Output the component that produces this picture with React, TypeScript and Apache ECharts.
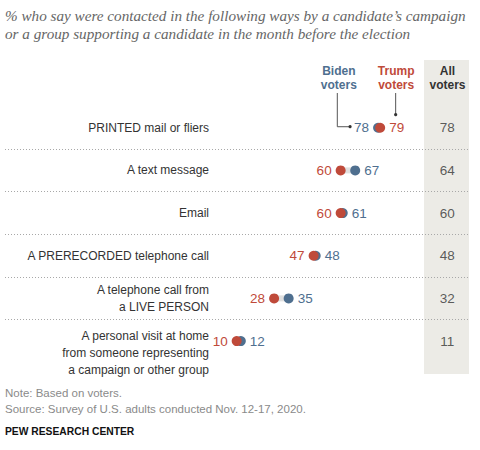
import { useEffect, useRef } from "react";
import * as echarts from "echarts";

const BLUE = "#4f6f8f";
const RED = "#bf4a3a";
const INK = "#333333";
const NOTE = "#8a8a8a";
const FONT = "'Liberation Sans', Arial, sans-serif";

const TITLE =
  "% who say were contacted in the following ways by a candidate’s campaign\nor a group supporting a candidate in the month before the election";
const CATEGORIES = [
  "PRINTED mail or fliers",
  "A text message",
  "Email",
  "A PRERECORDED telephone call",
  "A telephone call from\na LIVE PERSON",
  "A personal visit at home\nfrom someone representing\na campaign or other group",
];
const BIDEN = [78, 67, 61, 48, 35, 12];
const TRUMP = [79, 60, 60, 47, 28, 10];
const ALL_VOTERS = [78, 64, 60, 48, 32, 11];
const HEADERS = ["Biden\nvoters", "Trump\nvoters", "All\nvoters"];
const NOTES = ["Note: Based on voters.", "Source: Survey of U.S. adults conducted Nov. 12-17, 2020."];
const CREDIT = "PEW RESEARCH CENTER";

// x axis is stretched over the whole row width so the dotted rules span it; 0..100 sits at 216..422px
const X_MIN = -101.4;
const X_MAX = 122.2;
const ALL_X = 111.3;

function buildGraphic(bidenPt: number[] | null, trumpPt: number[] | null) {
  const els: any[] = [
    { type: "rect", z: -10, silent: true, shape: { x: 424, y: 60, width: 45, height: 314 }, style: { fill: "#ecebe6" } },
    {
      type: "text",
      x: 5,
      y: 6,
      style: { text: TITLE, font: "italic 15.2px 'Liberation Serif', serif", fill: "#666", lineHeight: 18, verticalAlign: "top" },
    },
    ...HEADERS.map((h, i) => ({
      type: "text",
      x: [338.8, 396.2, 447.5][i],
      y: 64,
      style: {
        text: h,
        font: `bold 12px ${FONT}`,
        fill: [BLUE, RED, INK][i],
        lineHeight: 14,
        align: "center",
        verticalAlign: "top",
      },
    })),
    ...NOTES.map((n, i) => ({
      type: "text",
      x: 5,
      y: 392.7 + i * 16.6,
      style: { text: n, font: `11.5px ${FONT}`, fill: NOTE, verticalAlign: "middle" },
    })),
    {
      type: "text",
      x: 5,
      y: 431,
      style: { text: CREDIT, font: `bold 10.3px ${FONT}`, fill: "#111", verticalAlign: "middle" },
    },
  ];
  if (bidenPt && trumpPt) {
    const bx = 337.3;
    const tx = trumpPt[0] + 15.5;
    els.push(
      {
        type: "polyline",
        shape: { points: [[bx, 93], [bx, bidenPt[1] - 1], [bidenPt[0] - 28, bidenPt[1] - 1]] },
        style: { stroke: "#555", lineWidth: 1, fill: "none" },
      },
      { type: "circle", shape: { cx: bidenPt[0] - 28, cy: bidenPt[1] - 1, r: 1.6 }, style: { fill: "#333" } },
      { type: "line", shape: { x1: tx, y1: 93, x2: tx, y2: trumpPt[1] - 13 }, style: { stroke: "#555", lineWidth: 1 } },
      { type: "circle", shape: { cx: tx, cy: trumpPt[1] - 13, r: 1.6 }, style: { fill: "#333" } },
    );
  }
  return els;
}

export default function App() {
  const elRef = useRef<HTMLDivElement>(null);

  useEffect(() => {
    document.body.style.margin = "0";
    const el = elRef.current;
    if (!el) return;
    const chart = echarts.init(el, undefined, { renderer: "svg" });

    const dotLabel = (color: string) => ({
      show: true,
      color,
      fontSize: 13.5,
      fontFamily: FONT,
      distance: 4,
      formatter: (p: any) => String(p.value[0]),
    });

    chart.setOption({
      animation: false,
      grid: { left: 5, right: 10, top: 106.4, height: 256 },
      xAxis: { type: "value", min: X_MIN, max: X_MAX, show: false },
      yAxis: [
        {
          type: "category",
          inverse: true,
          data: CATEGORIES,
          offset: -204,
          axisLine: { show: false },
          axisTick: { show: false },
          axisLabel: {
            interval: 0,
            hideOverlap: false,
            color: INK,
            fontSize: 12,
            fontFamily: FONT,
            lineHeight: 16.6,
            margin: 0,
            align: "right",
            // the three-line label hangs below its row's dots, as in the original
            formatter: (v: string, i: number) => (i === 5 ? `{gap| }\n${v}` : v),
            rich: { gap: { lineHeight: 24, fontSize: 1 } },
          },
        },
        {
          type: "value",
          inverse: true,
          min: 0,
          max: 6,
          interval: 1,
          axisLine: { show: false },
          axisTick: { show: false },
          axisLabel: { show: false },
          splitLine: { show: true, showMinLine: false, showMaxLine: false, lineStyle: { color: "#a8a8a8", type: [1, 2], width: 1 } },
        },
      ],
      series: [
        {
          type: "bar",
          stack: "range",
          yAxisIndex: 0,
          barWidth: 6,
          silent: true,
          itemStyle: { color: "transparent" },
          data: BIDEN.map((b, i) => Math.min(b, TRUMP[i])),
        },
        {
          type: "bar",
          stack: "range",
          yAxisIndex: 0,
          barWidth: 6,
          silent: true,
          itemStyle: { color: "#e0e0e0" },
          data: BIDEN.map((b, i) => Math.abs(b - TRUMP[i])),
        },
        {
          name: "Biden voters",
          type: "scatter",
          yAxisIndex: 0,
          symbolSize: 10,
          itemStyle: { color: BLUE, opacity: 1 },
          label: dotLabel(BLUE),
          data: BIDEN.map((v, i) => ({ value: [v, i], label: { position: v <= TRUMP[i] ? "left" : "right" } })),
        },
        {
          name: "Trump voters",
          type: "scatter",
          yAxisIndex: 0,
          symbolSize: 10,
          itemStyle: { color: RED, opacity: 1 },
          label: dotLabel(RED),
          data: TRUMP.map((v, i) => ({ value: [v, i], label: { position: v < BIDEN[i] ? "left" : "right" } })),
        },
        {
          name: "All voters",
          type: "scatter",
          yAxisIndex: 0,
          symbolSize: 0,
          label: {
            show: true,
            position: "inside",
            color: INK,
            fontSize: 13.5,
            fontFamily: FONT,
            formatter: (p: any) => String(p.value[2]),
          },
          data: ALL_VOTERS.map((v, i) => [ALL_X, i, v]),
        },
      ],
      graphic: buildGraphic(null, null),
    });

    const b = chart.convertToPixel({ xAxisIndex: 0, yAxisIndex: 0 }, [BIDEN[0], 0]) as number[];
    const t = chart.convertToPixel({ xAxisIndex: 0, yAxisIndex: 0 }, [TRUMP[0], 0]) as number[];
    chart.setOption({ graphic: buildGraphic(b, t) });

    return () => chart.dispose();
  }, []);

  return <div ref={elRef} style={{ width: 480, height: 450 }} />;
}
